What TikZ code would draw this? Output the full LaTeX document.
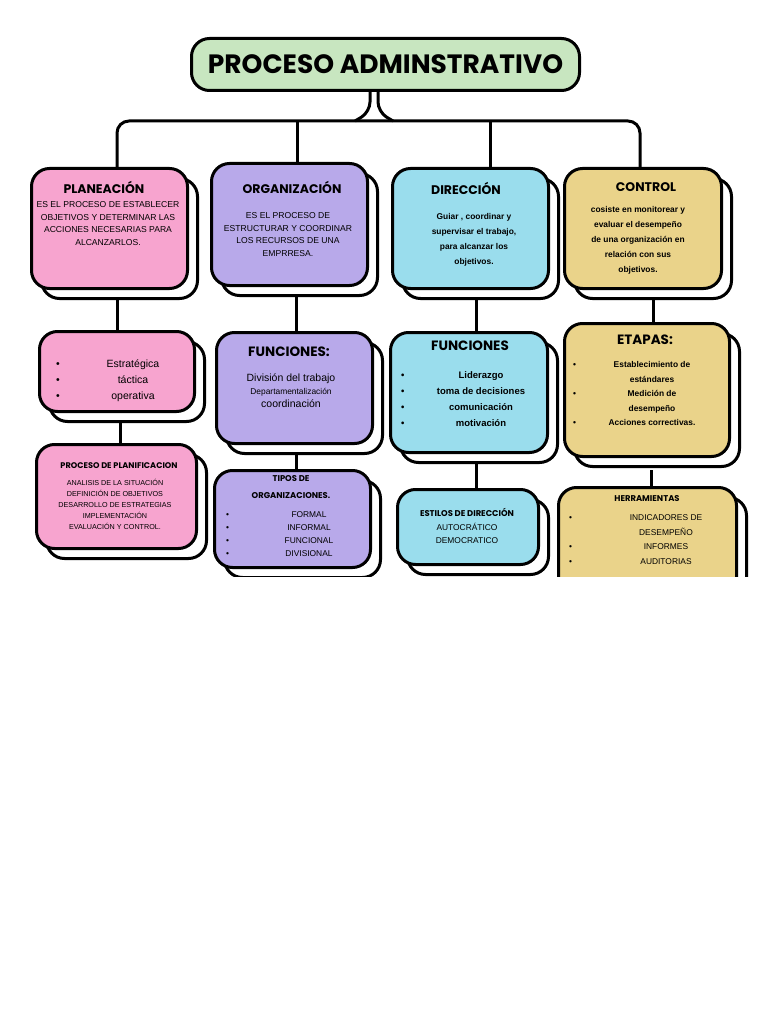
\documentclass[tikz,border=0pt]{standalone}
\usepackage{fontspec}
\usepackage{array}
\setmainfont{Liberation Sans}
\newfontfamily\headf{Poppins}
\usetikzlibrary{shadows}
\definecolor{cpink}{HTML}{F7A4CF}
\definecolor{cpurple}{HTML}{B8A9EA}
\definecolor{cblue}{HTML}{9ADDED}
\definecolor{cyel}{HTML}{EAD38A}
\definecolor{cgreen}{HTML}{C8E6C0}
\newcolumntype{C}[1]{>{\centering\arraybackslash}p{#1}}
\tikzset{
 box/.style={draw=black,line width=3pt,rounded corners=18pt,fill=#1,anchor=north west,
   copy shadow={shadow xshift=10pt,shadow yshift=-10pt,fill=white,draw=black,line width=3pt}},
 plain/.style={draw=black,line width=3pt,rounded corners=18pt,fill=#1,anchor=north west},
 conn/.style={line width=3pt,black},
 head/.style={font=\headf\bfseries\fontsize{12.5}{14}\selectfont,anchor=north},
 body/.style={font=\fontsize{8.6}{12.5}\selectfont,align=center,anchor=north},
}
\begin{document}
\begin{tikzpicture}[x=1pt,y=-1pt]
\useasboundingbox[fill=white] (0,0) rectangle (768,1024);
\begin{scope}
\clip (0,0) rectangle (768,576);
\draw[conn,rounded corners=12pt] (117,167) -- (117,121) -- (640,121) -- (640,167);
\draw[conn] (297,162) -- (297,121);
\draw[conn] (490,167) -- (490,121);
\draw[conn,rounded corners=10pt] (370,89) -- (370,112) -- (355,121);
\draw[conn,rounded corners=10pt] (378,89) -- (378,112) -- (393,121);
\draw[conn] (117,297) -- (117,330);
\draw[conn] (120,420) -- (120,443);
\draw[conn] (296,294) -- (296,331);
\draw[conn] (296,452) -- (296,469);
\draw[conn] (476,297) -- (476,331);
\draw[conn] (476,463) -- (476,488);
\draw[conn] (653,297) -- (653,322);
\draw[conn] (651,470) -- (651,486);
% title
\node[plain=cgreen,minimum width=388pt,minimum height=52pt] (title) at (190,37) {};
\node[font=\headf\bfseries\fontsize{26.5}{28}\selectfont] (tt) at (title.center) {PROCESO ADMINSTRATIVO};
% row 1
\node[box=cpink,minimum width=156pt,minimum height=120pt] (pl) at (30,167) {};
\node[head] (plh) at (104,178) {PLANEACIÓN};
\node[body] (plt) at (108,198) {ES EL PROCESO DE ESTABLECER\\OBJETIVOS Y DETERMINAR LAS\\ACCIONES NECESARIAS PARA\\ALCANZARLOS.};
\node[box=cpurple,minimum width=156pt,minimum height=122pt] (or) at (210,162) {};
\node[head] (orh) at (292,178) {ORGANIZACIÓN};
\node[body] (ort) at (288,209) {ES EL PROCESO DE\\ESTRUCTURAR Y COORDINAR\\LOS RECURSOS DE UNA\\EMPRRESA.};
\node[box=cblue,minimum width=156pt,minimum height=120pt] (di) at (391,167) {};
\node[head] (dih) at (466,179) {DIRECCIÓN};
\node[body,font=\bfseries\fontsize{8.4}{15}\selectfont] (dit) at (474,210) {Guiar , coordinar y\\supervisar el trabajo,\\para alcanzar los\\objetivos.};
\node[box=cyel,minimum width=157pt,minimum height=120pt] (co) at (563,167) {};
\node[head] (coh) at (646,179) {CONTROL};
\node[body,font=\bfseries\fontsize{8.4}{15}\selectfont] (cot) at (638,203) {cosiste en monitorear y\\evaluar el desempeño\\de una organización en\\relación con sus\\objetivos.};
% row 2
\node[box=cpink,minimum width=155pt,minimum height=80pt] (pl2) at (38,330) {};
\node[anchor=north,font=\fontsize{10.5}{16}\selectfont] (pl2t) at (112,353) {\begin{tabular}{@{}p{30pt}C{70pt}@{}}\textbullet & Estratégica\\ \textbullet & táctica\\ \textbullet & operativa\end{tabular}};
\node[box=cpurple,minimum width=156pt,minimum height=111pt] (or2) at (215,331) {};
\node[head,font=\headf\bfseries\fontsize{13.5}{15}\selectfont] (or2h) at (289,343) {FUNCIONES:};
\node[body,font=\fontsize{10.5}{13}\selectfont] (or2t) at (291,370) {División del trabajo\\{\fontsize{8.4}{13}\selectfont Departamentalización}\\coordinación};
\node[box=cblue,minimum width=157pt,minimum height=120pt] (di2) at (389,331) {};
\node[head,font=\headf\bfseries\fontsize{13.5}{15}\selectfont] (di2h) at (470,337) {FUNCIONES};
\node[anchor=north,font=\bfseries\fontsize{9.5}{16}\selectfont] (di2t) at (467,364) {\begin{tabular}{@{}p{16pt}C{104pt}@{}}\textbullet & Liderazgo\\ \textbullet & toma de decisiones\\ \textbullet & comunicación\\ \textbullet & motivación\end{tabular}};
\node[box=cyel,minimum width=165pt,minimum height=133pt] (co2) at (563,322) {};
\node[head,font=\headf\bfseries\fontsize{13.5}{15}\selectfont] (co2h) at (645,331) {ETAPAS:};
\node[anchor=north,font=\bfseries\fontsize{8.4}{14.5}\selectfont] (co2t) at (640,354) {\begin{tabular}{@{}p{12pt}C{110pt}@{}}\textbullet & Establecimiento de\\ & estándares\\ \textbullet & Medición de\\ & desempeño\\ \textbullet & Acciones correctivas.\end{tabular}};
% row 3
\node[box=cpink,minimum width=160pt,minimum height=104pt] (pl3) at (35,443) {};
\node[head,font=\headf\bfseries\fontsize{8.2}{9}\selectfont] (pl3h) at (119,459) {PROCESO DE PLANIFICACION};
\node[body,font=\fontsize{7.2}{11}\selectfont] (pl3t) at (115,476) {ANALISIS DE LA SITUACIÓN\\DEFINICIÓN DE OBJETIVOS\\DESARROLLO DE ESTRATEGIAS\\IMPLEMENTACIÓN\\EVALUACIÓN Y CONTROL.};
\node[box=cpurple,minimum width=156pt,minimum height=97pt] (or3) at (213,469) {};
\node[head,font=\headf\bfseries\fontsize{8.4}{17}\selectfont,align=center] (or3h) at (291,472) {TIPOS DE\\ORGANIZACIONES.};
\node[anchor=north,font=\fontsize{8.4}{13}\selectfont] (or3t) at (285,505) {\begin{tabular}{@{}p{36pt}C{70pt}@{}}\textbullet & FORMAL\\ \textbullet & INFORMAL\\ \textbullet & FUNCIONAL\\ \textbullet & DIVISIONAL\end{tabular}};
\node[box=cblue,minimum width=141pt,minimum height=75pt] (di3) at (396,488) {};
\node[head,font=\headf\bfseries\fontsize{8.4}{9}\selectfont] (di3h) at (467,505) {ESTILOS DE DIRECCIÓN};
\node[body,font=\fontsize{8.4}{13}\selectfont] (di3t) at (467,520) {AUTOCRÁTICO\\DEMOCRATICO};
\node[box=cyel,minimum width=178pt,minimum height=120pt] (co3) at (557,486) {};
\node[head,font=\headf\bfseries\fontsize{8.4}{9}\selectfont] (co3h) at (647,492) {HERRAMIENTAS};
\node[anchor=north,font=\fontsize{8.4}{14.5}\selectfont] (co3t) at (640,507) {\begin{tabular}{@{}p{40pt}C{90pt}@{}}\textbullet & INDICADORES DE\\ & DESEMPEÑO\\ \textbullet & INFORMES\\ \textbullet & AUDITORIAS\end{tabular}};
\end{scope}
\end{tikzpicture}
\end{document}
